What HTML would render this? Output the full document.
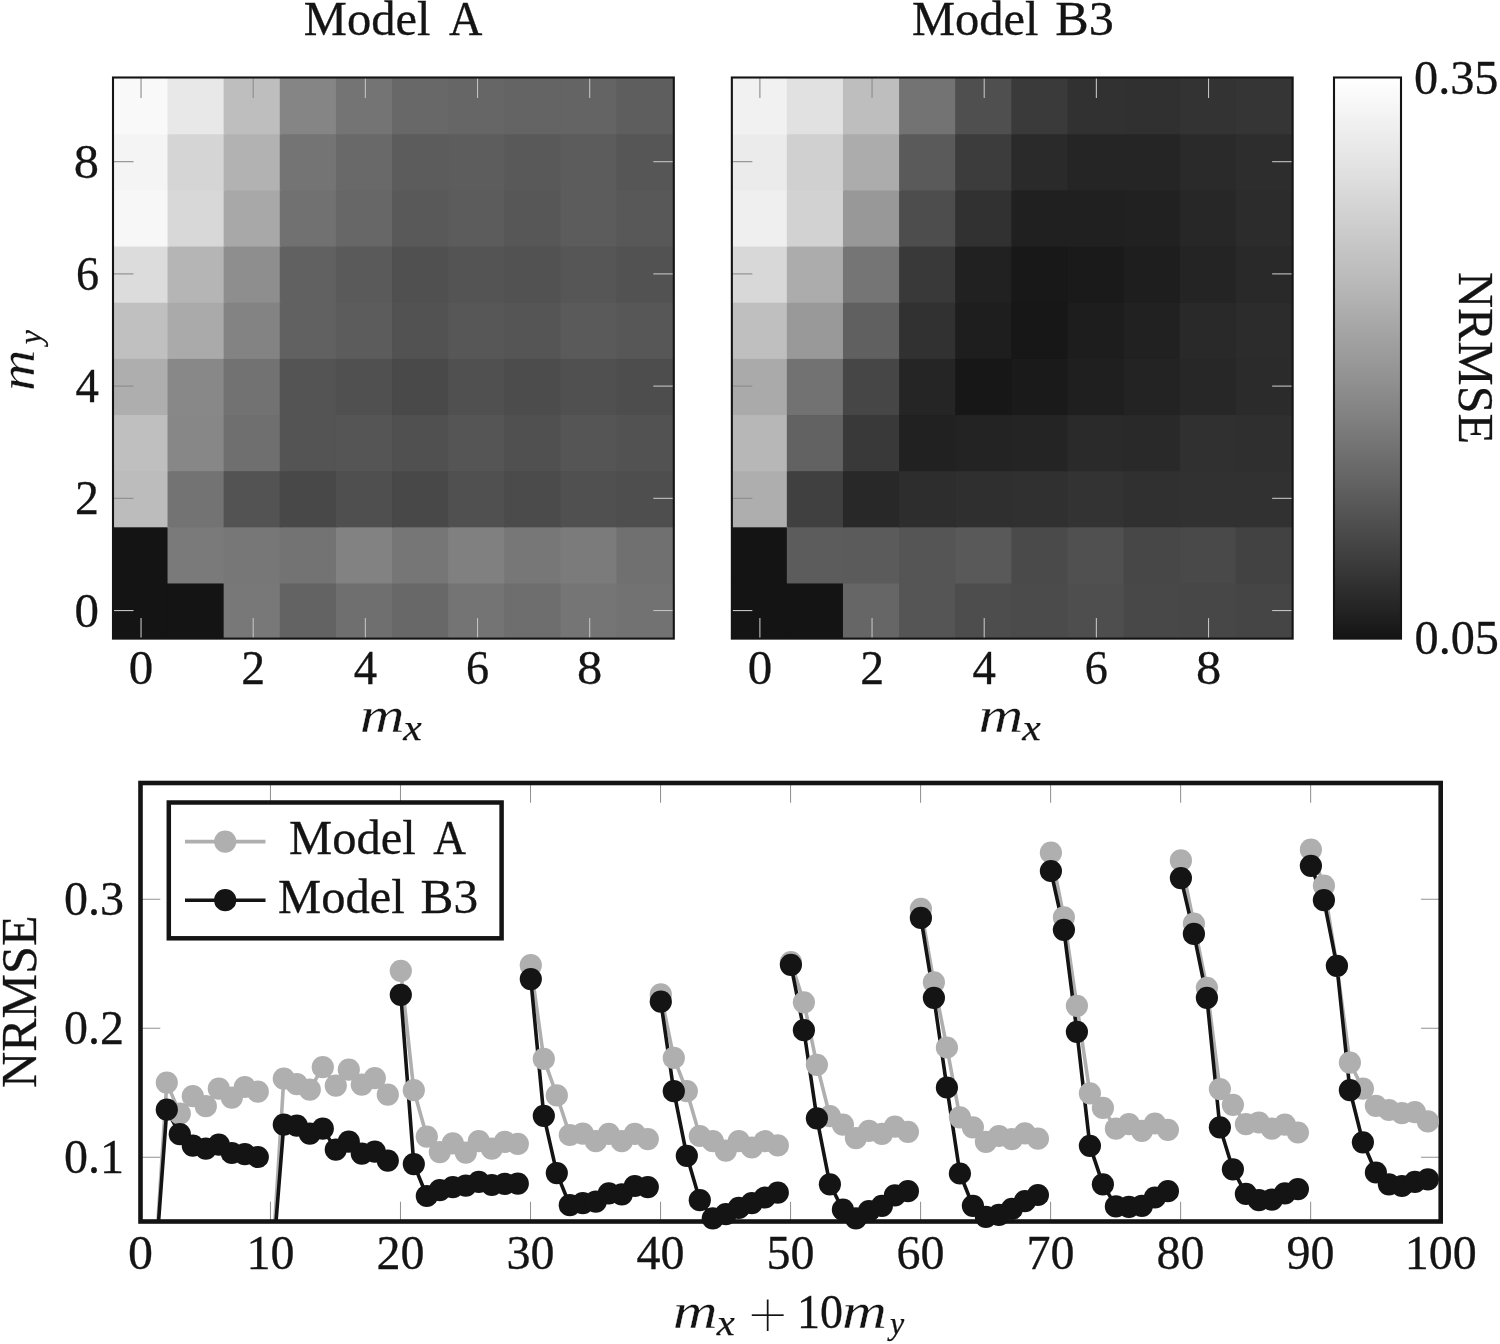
<!DOCTYPE html>
<html lang="en"><head><meta charset="utf-8"><title>NRMSE model comparison</title>
<style>html,body{margin:0;padding:0;background:#fff}svg{display:block}text{font-family:"Liberation Serif","DejaVu Serif",serif;fill:#141414;stroke:#141414;stroke-width:.3px}.it{font-style:italic;stroke:#fff;stroke-width:.3px;paint-order:fill stroke}.pl{stroke:#fff;stroke-width:1.8px;paint-order:fill stroke}.sb{font-style:italic;stroke:#141414;stroke-width:.25px}</style></head><body>
<svg width="1500" height="1344" viewBox="0 0 1500 1344">
<rect width="1500" height="1344" fill="#fff"/>
<clipPath id="hc113"><rect x="113.00" y="77.50" width="560.80" height="561.10"/></clipPath>
<g clip-path="url(#hc113)">
<rect x="108.40" y="582.00" width="60.58" height="60.61" fill="rgb(20,20,20)"/>
<rect x="167.53" y="582.00" width="57.58" height="60.61" fill="rgb(20,20,20)"/>
<rect x="223.65" y="582.00" width="57.58" height="60.61" fill="rgb(120,120,120)"/>
<rect x="279.77" y="582.00" width="57.58" height="60.61" fill="rgb(99,99,99)"/>
<rect x="335.90" y="582.00" width="57.58" height="60.61" fill="rgb(111,111,111)"/>
<rect x="392.02" y="582.00" width="57.58" height="60.61" fill="rgb(104,104,104)"/>
<rect x="448.15" y="582.00" width="57.58" height="60.61" fill="rgb(116,116,116)"/>
<rect x="504.27" y="582.00" width="57.58" height="60.61" fill="rgb(110,110,110)"/>
<rect x="560.40" y="582.00" width="57.58" height="60.61" fill="rgb(117,117,117)"/>
<rect x="616.52" y="582.00" width="59.08" height="60.61" fill="rgb(114,114,114)"/>
<rect x="108.40" y="525.85" width="60.58" height="57.61" fill="rgb(20,20,20)"/>
<rect x="167.53" y="525.85" width="57.58" height="57.61" fill="rgb(122,122,122)"/>
<rect x="223.65" y="525.85" width="57.58" height="57.61" fill="rgb(119,119,119)"/>
<rect x="279.77" y="525.85" width="57.58" height="57.61" fill="rgb(115,115,115)"/>
<rect x="335.90" y="525.85" width="57.58" height="57.61" fill="rgb(130,130,130)"/>
<rect x="392.02" y="525.85" width="57.58" height="57.61" fill="rgb(118,118,118)"/>
<rect x="448.15" y="525.85" width="57.58" height="57.61" fill="rgb(128,128,128)"/>
<rect x="504.27" y="525.85" width="57.58" height="57.61" fill="rgb(119,119,119)"/>
<rect x="560.40" y="525.85" width="57.58" height="57.61" fill="rgb(123,123,123)"/>
<rect x="616.52" y="525.85" width="59.08" height="57.61" fill="rgb(112,112,112)"/>
<rect x="108.40" y="469.70" width="60.58" height="57.61" fill="rgb(188,188,188)"/>
<rect x="167.53" y="469.70" width="57.58" height="57.61" fill="rgb(115,115,115)"/>
<rect x="223.65" y="469.70" width="57.58" height="57.61" fill="rgb(83,83,83)"/>
<rect x="279.77" y="469.70" width="57.58" height="57.61" fill="rgb(72,72,72)"/>
<rect x="335.90" y="469.70" width="57.58" height="57.61" fill="rgb(79,79,79)"/>
<rect x="392.02" y="469.70" width="57.58" height="57.61" fill="rgb(72,72,72)"/>
<rect x="448.15" y="469.70" width="57.58" height="57.61" fill="rgb(80,80,80)"/>
<rect x="504.27" y="469.70" width="57.58" height="57.61" fill="rgb(75,75,75)"/>
<rect x="560.40" y="469.70" width="57.58" height="57.61" fill="rgb(80,80,80)"/>
<rect x="616.52" y="469.70" width="59.08" height="57.61" fill="rgb(78,78,78)"/>
<rect x="108.40" y="413.55" width="60.58" height="57.61" fill="rgb(191,191,191)"/>
<rect x="167.53" y="413.55" width="57.58" height="57.61" fill="rgb(135,135,135)"/>
<rect x="223.65" y="413.55" width="57.58" height="57.61" fill="rgb(111,111,111)"/>
<rect x="279.77" y="413.55" width="57.58" height="57.61" fill="rgb(84,84,84)"/>
<rect x="335.90" y="413.55" width="57.58" height="57.61" fill="rgb(85,85,85)"/>
<rect x="392.02" y="413.55" width="57.58" height="57.61" fill="rgb(80,80,80)"/>
<rect x="448.15" y="413.55" width="57.58" height="57.61" fill="rgb(85,85,85)"/>
<rect x="504.27" y="413.55" width="57.58" height="57.61" fill="rgb(80,80,80)"/>
<rect x="560.40" y="413.55" width="57.58" height="57.61" fill="rgb(85,85,85)"/>
<rect x="616.52" y="413.55" width="59.08" height="57.61" fill="rgb(82,82,82)"/>
<rect x="108.40" y="357.40" width="60.58" height="57.61" fill="rgb(174,174,174)"/>
<rect x="167.53" y="357.40" width="57.58" height="57.61" fill="rgb(136,136,136)"/>
<rect x="223.65" y="357.40" width="57.58" height="57.61" fill="rgb(114,114,114)"/>
<rect x="279.77" y="357.40" width="57.58" height="57.61" fill="rgb(84,84,84)"/>
<rect x="335.90" y="357.40" width="57.58" height="57.61" fill="rgb(80,80,80)"/>
<rect x="392.02" y="357.40" width="57.58" height="57.61" fill="rgb(73,73,73)"/>
<rect x="448.15" y="357.40" width="57.58" height="57.61" fill="rgb(80,80,80)"/>
<rect x="504.27" y="357.40" width="57.58" height="57.61" fill="rgb(76,76,76)"/>
<rect x="560.40" y="357.40" width="57.58" height="57.61" fill="rgb(80,80,80)"/>
<rect x="616.52" y="357.40" width="59.08" height="57.61" fill="rgb(77,77,77)"/>
<rect x="108.40" y="301.25" width="60.58" height="57.61" fill="rgb(192,192,192)"/>
<rect x="167.53" y="301.25" width="57.58" height="57.61" fill="rgb(170,170,170)"/>
<rect x="223.65" y="301.25" width="57.58" height="57.61" fill="rgb(131,131,131)"/>
<rect x="279.77" y="301.25" width="57.58" height="57.61" fill="rgb(97,97,97)"/>
<rect x="335.90" y="301.25" width="57.58" height="57.61" fill="rgb(92,92,92)"/>
<rect x="392.02" y="301.25" width="57.58" height="57.61" fill="rgb(82,82,82)"/>
<rect x="448.15" y="301.25" width="57.58" height="57.61" fill="rgb(87,87,87)"/>
<rect x="504.27" y="301.25" width="57.58" height="57.61" fill="rgb(85,85,85)"/>
<rect x="560.40" y="301.25" width="57.58" height="57.61" fill="rgb(90,90,90)"/>
<rect x="616.52" y="301.25" width="59.08" height="57.61" fill="rgb(87,87,87)"/>
<rect x="108.40" y="245.10" width="60.58" height="57.61" fill="rgb(220,220,220)"/>
<rect x="167.53" y="245.10" width="57.58" height="57.61" fill="rgb(181,181,181)"/>
<rect x="223.65" y="245.10" width="57.58" height="57.61" fill="rgb(142,142,142)"/>
<rect x="279.77" y="245.10" width="57.58" height="57.61" fill="rgb(97,97,97)"/>
<rect x="335.90" y="245.10" width="57.58" height="57.61" fill="rgb(90,90,90)"/>
<rect x="392.02" y="245.10" width="57.58" height="57.61" fill="rgb(80,80,80)"/>
<rect x="448.15" y="245.10" width="57.58" height="57.61" fill="rgb(84,84,84)"/>
<rect x="504.27" y="245.10" width="57.58" height="57.61" fill="rgb(82,82,82)"/>
<rect x="560.40" y="245.10" width="57.58" height="57.61" fill="rgb(86,86,86)"/>
<rect x="616.52" y="245.10" width="59.08" height="57.61" fill="rgb(82,82,82)"/>
<rect x="108.40" y="188.95" width="60.58" height="57.61" fill="rgb(247,247,247)"/>
<rect x="167.53" y="188.95" width="57.58" height="57.61" fill="rgb(216,216,216)"/>
<rect x="223.65" y="188.95" width="57.58" height="57.61" fill="rgb(168,168,168)"/>
<rect x="279.77" y="188.95" width="57.58" height="57.61" fill="rgb(113,113,113)"/>
<rect x="335.90" y="188.95" width="57.58" height="57.61" fill="rgb(103,103,103)"/>
<rect x="392.02" y="188.95" width="57.58" height="57.61" fill="rgb(89,89,89)"/>
<rect x="448.15" y="188.95" width="57.58" height="57.61" fill="rgb(92,92,92)"/>
<rect x="504.27" y="188.95" width="57.58" height="57.61" fill="rgb(87,87,87)"/>
<rect x="560.40" y="188.95" width="57.58" height="57.61" fill="rgb(92,92,92)"/>
<rect x="616.52" y="188.95" width="59.08" height="57.61" fill="rgb(88,88,88)"/>
<rect x="108.40" y="132.80" width="60.58" height="57.61" fill="rgb(244,244,244)"/>
<rect x="167.53" y="132.80" width="57.58" height="57.61" fill="rgb(213,213,213)"/>
<rect x="223.65" y="132.80" width="57.58" height="57.61" fill="rgb(178,178,178)"/>
<rect x="279.77" y="132.80" width="57.58" height="57.61" fill="rgb(116,116,116)"/>
<rect x="335.90" y="132.80" width="57.58" height="57.61" fill="rgb(105,105,105)"/>
<rect x="392.02" y="132.80" width="57.58" height="57.61" fill="rgb(92,92,92)"/>
<rect x="448.15" y="132.80" width="57.58" height="57.61" fill="rgb(93,93,93)"/>
<rect x="504.27" y="132.80" width="57.58" height="57.61" fill="rgb(89,89,89)"/>
<rect x="560.40" y="132.80" width="57.58" height="57.61" fill="rgb(92,92,92)"/>
<rect x="616.52" y="132.80" width="59.08" height="57.61" fill="rgb(86,86,86)"/>
<rect x="108.40" y="75.15" width="60.58" height="59.11" fill="rgb(249,249,249)"/>
<rect x="167.53" y="75.15" width="57.58" height="59.11" fill="rgb(232,232,232)"/>
<rect x="223.65" y="75.15" width="57.58" height="59.11" fill="rgb(190,190,190)"/>
<rect x="279.77" y="75.15" width="57.58" height="59.11" fill="rgb(133,133,133)"/>
<rect x="335.90" y="75.15" width="57.58" height="59.11" fill="rgb(116,116,116)"/>
<rect x="392.02" y="75.15" width="57.58" height="59.11" fill="rgb(104,104,104)"/>
<rect x="448.15" y="75.15" width="57.58" height="59.11" fill="rgb(102,102,102)"/>
<rect x="504.27" y="75.15" width="57.58" height="59.11" fill="rgb(100,100,100)"/>
<rect x="560.40" y="75.15" width="57.58" height="59.11" fill="rgb(100,100,100)"/>
<rect x="616.52" y="75.15" width="59.08" height="59.11" fill="rgb(94,94,94)"/>
</g>
<path d="M141.04 638.60v-20.5" stroke="#c2c2c2" stroke-width="1.1"/>
<path d="M141.04 77.50v20.5" stroke="#8c8c8c" stroke-width="1.1"/>
<path d="M113.00 610.55h20.5" stroke="#c2c2c2" stroke-width="1.1"/>
<path d="M673.80 610.55h-20.5" stroke="#c2c2c2" stroke-width="1.1"/>
<path d="M253.20 638.60v-20.5" stroke="#c2c2c2" stroke-width="1.1"/>
<path d="M253.20 77.50v20.5" stroke="#8c8c8c" stroke-width="1.1"/>
<path d="M113.00 498.33h20.5" stroke="#8c8c8c" stroke-width="1.1"/>
<path d="M673.80 498.33h-20.5" stroke="#c2c2c2" stroke-width="1.1"/>
<path d="M365.36 638.60v-20.5" stroke="#c2c2c2" stroke-width="1.1"/>
<path d="M365.36 77.50v20.5" stroke="#c2c2c2" stroke-width="1.1"/>
<path d="M113.00 386.11h20.5" stroke="#8c8c8c" stroke-width="1.1"/>
<path d="M673.80 386.11h-20.5" stroke="#c2c2c2" stroke-width="1.1"/>
<path d="M477.52 638.60v-20.5" stroke="#c2c2c2" stroke-width="1.1"/>
<path d="M477.52 77.50v20.5" stroke="#c2c2c2" stroke-width="1.1"/>
<path d="M113.00 273.89h20.5" stroke="#8c8c8c" stroke-width="1.1"/>
<path d="M673.80 273.89h-20.5" stroke="#c2c2c2" stroke-width="1.1"/>
<path d="M589.68 638.60v-20.5" stroke="#c2c2c2" stroke-width="1.1"/>
<path d="M589.68 77.50v20.5" stroke="#c2c2c2" stroke-width="1.1"/>
<path d="M113.00 161.67h20.5" stroke="#8c8c8c" stroke-width="1.1"/>
<path d="M673.80 161.67h-20.5" stroke="#c2c2c2" stroke-width="1.1"/>
<rect x="113.00" y="77.50" width="560.80" height="561.10" fill="none" stroke="#141414" stroke-width="2.1"/>
<text x="141.0" y="684" font-size="48" text-anchor="middle" textLength="24.5" lengthAdjust="spacingAndGlyphs">0</text>
<text x="99" y="626.5" font-size="48" text-anchor="end" textLength="24.5" lengthAdjust="spacingAndGlyphs">0</text>
<text x="253.2" y="684" font-size="48" text-anchor="middle" textLength="23.9" lengthAdjust="spacingAndGlyphs">2</text>
<text x="99" y="514.3" font-size="48" text-anchor="end" textLength="23.9" lengthAdjust="spacingAndGlyphs">2</text>
<text x="365.4" y="684" font-size="48" text-anchor="middle" textLength="23.4" lengthAdjust="spacingAndGlyphs">4</text>
<text x="99" y="402.1" font-size="48" text-anchor="end" textLength="23.4" lengthAdjust="spacingAndGlyphs">4</text>
<text x="477.5" y="684" font-size="48" text-anchor="middle" textLength="23.1" lengthAdjust="spacingAndGlyphs">6</text>
<text x="99" y="289.9" font-size="48" text-anchor="end" textLength="23.1" lengthAdjust="spacingAndGlyphs">6</text>
<text x="589.7" y="684" font-size="48" text-anchor="middle" textLength="25.2" lengthAdjust="spacingAndGlyphs">8</text>
<text x="99" y="177.7" font-size="48" text-anchor="end" textLength="25.2" lengthAdjust="spacingAndGlyphs">8</text>
<clipPath id="hc731"><rect x="731.85" y="77.50" width="560.80" height="561.10"/></clipPath>
<g clip-path="url(#hc731)">
<rect x="727.70" y="582.00" width="60.58" height="60.61" fill="rgb(20,20,20)"/>
<rect x="786.83" y="582.00" width="57.58" height="60.61" fill="rgb(20,20,20)"/>
<rect x="842.95" y="582.00" width="57.58" height="60.61" fill="rgb(102,102,102)"/>
<rect x="899.08" y="582.00" width="57.58" height="60.61" fill="rgb(85,85,85)"/>
<rect x="955.20" y="582.00" width="57.58" height="60.61" fill="rgb(77,77,77)"/>
<rect x="1011.33" y="582.00" width="57.58" height="60.61" fill="rgb(75,75,75)"/>
<rect x="1067.45" y="582.00" width="57.58" height="60.61" fill="rgb(78,78,78)"/>
<rect x="1123.58" y="582.00" width="57.58" height="60.61" fill="rgb(72,72,72)"/>
<rect x="1179.70" y="582.00" width="57.58" height="60.61" fill="rgb(71,71,71)"/>
<rect x="1235.83" y="582.00" width="59.08" height="60.61" fill="rgb(69,69,69)"/>
<rect x="727.70" y="525.85" width="60.58" height="57.61" fill="rgb(20,20,20)"/>
<rect x="786.83" y="525.85" width="57.58" height="57.61" fill="rgb(92,92,92)"/>
<rect x="842.95" y="525.85" width="57.58" height="57.61" fill="rgb(91,91,91)"/>
<rect x="899.08" y="525.85" width="57.58" height="57.61" fill="rgb(85,85,85)"/>
<rect x="955.20" y="525.85" width="57.58" height="57.61" fill="rgb(89,89,89)"/>
<rect x="1011.33" y="525.85" width="57.58" height="57.61" fill="rgb(74,74,74)"/>
<rect x="1067.45" y="525.85" width="57.58" height="57.61" fill="rgb(80,80,80)"/>
<rect x="1123.58" y="525.85" width="57.58" height="57.61" fill="rgb(71,71,71)"/>
<rect x="1179.70" y="525.85" width="57.58" height="57.61" fill="rgb(73,73,73)"/>
<rect x="1235.83" y="525.85" width="59.08" height="57.61" fill="rgb(66,66,66)"/>
<rect x="727.70" y="469.70" width="60.58" height="57.61" fill="rgb(174,174,174)"/>
<rect x="786.83" y="469.70" width="57.58" height="57.61" fill="rgb(64,64,64)"/>
<rect x="842.95" y="469.70" width="57.58" height="57.61" fill="rgb(40,40,40)"/>
<rect x="899.08" y="469.70" width="57.58" height="57.61" fill="rgb(45,45,45)"/>
<rect x="955.20" y="469.70" width="57.58" height="57.61" fill="rgb(47,47,47)"/>
<rect x="1011.33" y="469.70" width="57.58" height="57.61" fill="rgb(48,48,48)"/>
<rect x="1067.45" y="469.70" width="57.58" height="57.61" fill="rgb(51,51,51)"/>
<rect x="1123.58" y="469.70" width="57.58" height="57.61" fill="rgb(48,48,48)"/>
<rect x="1179.70" y="469.70" width="57.58" height="57.61" fill="rgb(49,49,49)"/>
<rect x="1235.83" y="469.70" width="59.08" height="57.61" fill="rgb(49,49,49)"/>
<rect x="727.70" y="413.55" width="60.58" height="57.61" fill="rgb(183,183,183)"/>
<rect x="786.83" y="413.55" width="57.58" height="57.61" fill="rgb(98,98,98)"/>
<rect x="842.95" y="413.55" width="57.58" height="57.61" fill="rgb(57,57,57)"/>
<rect x="899.08" y="413.55" width="57.58" height="57.61" fill="rgb(33,33,33)"/>
<rect x="955.20" y="413.55" width="57.58" height="57.61" fill="rgb(35,35,35)"/>
<rect x="1011.33" y="413.55" width="57.58" height="57.61" fill="rgb(36,36,36)"/>
<rect x="1067.45" y="413.55" width="57.58" height="57.61" fill="rgb(42,42,42)"/>
<rect x="1123.58" y="413.55" width="57.58" height="57.61" fill="rgb(41,41,41)"/>
<rect x="1179.70" y="413.55" width="57.58" height="57.61" fill="rgb(48,48,48)"/>
<rect x="1235.83" y="413.55" width="59.08" height="57.61" fill="rgb(47,47,47)"/>
<rect x="727.70" y="357.40" width="60.58" height="57.61" fill="rgb(170,170,170)"/>
<rect x="786.83" y="357.40" width="57.58" height="57.61" fill="rgb(114,114,114)"/>
<rect x="842.95" y="357.40" width="57.58" height="57.61" fill="rgb(70,70,70)"/>
<rect x="899.08" y="357.40" width="57.58" height="57.61" fill="rgb(37,37,37)"/>
<rect x="955.20" y="357.40" width="57.58" height="57.61" fill="rgb(23,23,23)"/>
<rect x="1011.33" y="357.40" width="57.58" height="57.61" fill="rgb(26,26,26)"/>
<rect x="1067.45" y="357.40" width="57.58" height="57.61" fill="rgb(31,31,31)"/>
<rect x="1123.58" y="357.40" width="57.58" height="57.61" fill="rgb(35,35,35)"/>
<rect x="1179.70" y="357.40" width="57.58" height="57.61" fill="rgb(39,39,39)"/>
<rect x="1235.83" y="357.40" width="59.08" height="57.61" fill="rgb(43,43,43)"/>
<rect x="727.70" y="301.25" width="60.58" height="57.61" fill="rgb(191,191,191)"/>
<rect x="786.83" y="301.25" width="57.58" height="57.61" fill="rgb(153,153,153)"/>
<rect x="842.95" y="301.25" width="57.58" height="57.61" fill="rgb(96,96,96)"/>
<rect x="899.08" y="301.25" width="57.58" height="57.61" fill="rgb(49,49,49)"/>
<rect x="955.20" y="301.25" width="57.58" height="57.61" fill="rgb(30,30,30)"/>
<rect x="1011.33" y="301.25" width="57.58" height="57.61" fill="rgb(23,23,23)"/>
<rect x="1067.45" y="301.25" width="57.58" height="57.61" fill="rgb(29,29,29)"/>
<rect x="1123.58" y="301.25" width="57.58" height="57.61" fill="rgb(33,33,33)"/>
<rect x="1179.70" y="301.25" width="57.58" height="57.61" fill="rgb(41,41,41)"/>
<rect x="1235.83" y="301.25" width="59.08" height="57.61" fill="rgb(44,44,44)"/>
<rect x="727.70" y="245.10" width="60.58" height="57.61" fill="rgb(216,216,216)"/>
<rect x="786.83" y="245.10" width="57.58" height="57.61" fill="rgb(172,172,172)"/>
<rect x="842.95" y="245.10" width="57.58" height="57.61" fill="rgb(117,117,117)"/>
<rect x="899.08" y="245.10" width="57.58" height="57.61" fill="rgb(57,57,57)"/>
<rect x="955.20" y="245.10" width="57.58" height="57.61" fill="rgb(33,33,33)"/>
<rect x="1011.33" y="245.10" width="57.58" height="57.61" fill="rgb(24,24,24)"/>
<rect x="1067.45" y="245.10" width="57.58" height="57.61" fill="rgb(26,26,26)"/>
<rect x="1123.58" y="245.10" width="57.58" height="57.61" fill="rgb(30,30,30)"/>
<rect x="1179.70" y="245.10" width="57.58" height="57.61" fill="rgb(36,36,36)"/>
<rect x="1235.83" y="245.10" width="59.08" height="57.61" fill="rgb(41,41,41)"/>
<rect x="727.70" y="188.95" width="60.58" height="57.61" fill="rgb(239,239,239)"/>
<rect x="786.83" y="188.95" width="57.58" height="57.61" fill="rgb(210,210,210)"/>
<rect x="842.95" y="188.95" width="57.58" height="57.61" fill="rgb(152,152,152)"/>
<rect x="899.08" y="188.95" width="57.58" height="57.61" fill="rgb(77,77,77)"/>
<rect x="955.20" y="188.95" width="57.58" height="57.61" fill="rgb(49,49,49)"/>
<rect x="1011.33" y="188.95" width="57.58" height="57.61" fill="rgb(32,32,32)"/>
<rect x="1067.45" y="188.95" width="57.58" height="57.61" fill="rgb(32,32,32)"/>
<rect x="1123.58" y="188.95" width="57.58" height="57.61" fill="rgb(33,33,33)"/>
<rect x="1179.70" y="188.95" width="57.58" height="57.61" fill="rgb(39,39,39)"/>
<rect x="1235.83" y="188.95" width="59.08" height="57.61" fill="rgb(44,44,44)"/>
<rect x="727.70" y="132.80" width="60.58" height="57.61" fill="rgb(235,235,235)"/>
<rect x="786.83" y="132.80" width="57.58" height="57.61" fill="rgb(208,208,208)"/>
<rect x="842.95" y="132.80" width="57.58" height="57.61" fill="rgb(172,172,172)"/>
<rect x="899.08" y="132.80" width="57.58" height="57.61" fill="rgb(90,90,90)"/>
<rect x="955.20" y="132.80" width="57.58" height="57.61" fill="rgb(60,60,60)"/>
<rect x="1011.33" y="132.80" width="57.58" height="57.61" fill="rgb(42,42,42)"/>
<rect x="1067.45" y="132.80" width="57.58" height="57.61" fill="rgb(37,37,37)"/>
<rect x="1123.58" y="132.80" width="57.58" height="57.61" fill="rgb(37,37,37)"/>
<rect x="1179.70" y="132.80" width="57.58" height="57.61" fill="rgb(42,42,42)"/>
<rect x="1235.83" y="132.80" width="59.08" height="57.61" fill="rgb(45,45,45)"/>
<rect x="727.70" y="75.15" width="60.58" height="59.11" fill="rgb(241,241,241)"/>
<rect x="786.83" y="75.15" width="57.58" height="59.11" fill="rgb(225,225,225)"/>
<rect x="842.95" y="75.15" width="57.58" height="59.11" fill="rgb(190,190,190)"/>
<rect x="899.08" y="75.15" width="57.58" height="59.11" fill="rgb(115,115,115)"/>
<rect x="955.20" y="75.15" width="57.58" height="59.11" fill="rgb(79,79,79)"/>
<rect x="1011.33" y="75.15" width="57.58" height="59.11" fill="rgb(58,58,58)"/>
<rect x="1067.45" y="75.15" width="57.58" height="59.11" fill="rgb(49,49,49)"/>
<rect x="1123.58" y="75.15" width="57.58" height="59.11" fill="rgb(48,48,48)"/>
<rect x="1179.70" y="75.15" width="57.58" height="59.11" fill="rgb(51,51,51)"/>
<rect x="1235.83" y="75.15" width="59.08" height="59.11" fill="rgb(53,53,53)"/>
</g>
<path d="M759.89 638.60v-20.5" stroke="#c2c2c2" stroke-width="1.1"/>
<path d="M759.89 77.50v20.5" stroke="#8c8c8c" stroke-width="1.1"/>
<path d="M731.85 610.55h20.5" stroke="#c2c2c2" stroke-width="1.1"/>
<path d="M1292.65 610.55h-20.5" stroke="#c2c2c2" stroke-width="1.1"/>
<path d="M872.05 638.60v-20.5" stroke="#c2c2c2" stroke-width="1.1"/>
<path d="M872.05 77.50v20.5" stroke="#8c8c8c" stroke-width="1.1"/>
<path d="M731.85 498.33h20.5" stroke="#8c8c8c" stroke-width="1.1"/>
<path d="M1292.65 498.33h-20.5" stroke="#c2c2c2" stroke-width="1.1"/>
<path d="M984.21 638.60v-20.5" stroke="#c2c2c2" stroke-width="1.1"/>
<path d="M984.21 77.50v20.5" stroke="#c2c2c2" stroke-width="1.1"/>
<path d="M731.85 386.11h20.5" stroke="#8c8c8c" stroke-width="1.1"/>
<path d="M1292.65 386.11h-20.5" stroke="#c2c2c2" stroke-width="1.1"/>
<path d="M1096.37 638.60v-20.5" stroke="#c2c2c2" stroke-width="1.1"/>
<path d="M1096.37 77.50v20.5" stroke="#c2c2c2" stroke-width="1.1"/>
<path d="M731.85 273.89h20.5" stroke="#8c8c8c" stroke-width="1.1"/>
<path d="M1292.65 273.89h-20.5" stroke="#c2c2c2" stroke-width="1.1"/>
<path d="M1208.53 638.60v-20.5" stroke="#c2c2c2" stroke-width="1.1"/>
<path d="M1208.53 77.50v20.5" stroke="#c2c2c2" stroke-width="1.1"/>
<path d="M731.85 161.67h20.5" stroke="#8c8c8c" stroke-width="1.1"/>
<path d="M1292.65 161.67h-20.5" stroke="#c2c2c2" stroke-width="1.1"/>
<rect x="731.85" y="77.50" width="560.80" height="561.10" fill="none" stroke="#141414" stroke-width="2.1"/>
<text x="759.9" y="684" font-size="48" text-anchor="middle" textLength="24.5" lengthAdjust="spacingAndGlyphs">0</text>
<text x="872.1" y="684" font-size="48" text-anchor="middle" textLength="23.9" lengthAdjust="spacingAndGlyphs">2</text>
<text x="984.2" y="684" font-size="48" text-anchor="middle" textLength="23.4" lengthAdjust="spacingAndGlyphs">4</text>
<text x="1096.4" y="684" font-size="48" text-anchor="middle" textLength="23.1" lengthAdjust="spacingAndGlyphs">6</text>
<text x="1208.5" y="684" font-size="48" text-anchor="middle" textLength="25.2" lengthAdjust="spacingAndGlyphs">8</text>
<text x="303.8" y="35.0" font-size="48.8" textLength="126.7" lengthAdjust="spacingAndGlyphs">Model</text>
<text x="449.0" y="35.0" font-size="48.8" textLength="33.4" lengthAdjust="spacingAndGlyphs">A</text>
<text x="911.9" y="35.0" font-size="48.8" textLength="126.7" lengthAdjust="spacingAndGlyphs">Model</text>
<text x="1055.3" y="35.0" font-size="48.8" textLength="58.5" lengthAdjust="spacingAndGlyphs">B3</text>
<text x="359.65" y="732" font-size="50" class="it" textLength="44.9" lengthAdjust="spacingAndGlyphs">m</text>
<text x="403.30" y="739.5" font-size="35" class="sb" textLength="18.5" lengthAdjust="spacingAndGlyphs">x</text>
<text x="978.55" y="732" font-size="50" class="it" textLength="44.9" lengthAdjust="spacingAndGlyphs">m</text>
<text x="1022.20" y="739.5" font-size="35" class="sb" textLength="18.5" lengthAdjust="spacingAndGlyphs">x</text>
<g transform="translate(34,390.9) rotate(-90)"><text x="0" y="0" font-size="50" class="it" textLength="41.3" lengthAdjust="spacingAndGlyphs">m</text><text x="46.7" y="6.5" font-size="31" class="sb" textLength="14.2" lengthAdjust="spacingAndGlyphs">y</text></g>
<defs><linearGradient id="cb" x1="0" y1="1" x2="0" y2="0">
<stop offset="0.000" stop-color="rgb(20,20,20)"/>
<stop offset="0.050" stop-color="rgb(35,35,35)"/>
<stop offset="0.100" stop-color="rgb(49,49,49)"/>
<stop offset="0.150" stop-color="rgb(64,64,64)"/>
<stop offset="0.200" stop-color="rgb(77,77,77)"/>
<stop offset="0.250" stop-color="rgb(91,91,91)"/>
<stop offset="0.300" stop-color="rgb(104,104,104)"/>
<stop offset="0.350" stop-color="rgb(117,117,117)"/>
<stop offset="0.400" stop-color="rgb(130,130,130)"/>
<stop offset="0.450" stop-color="rgb(142,142,142)"/>
<stop offset="0.500" stop-color="rgb(154,154,154)"/>
<stop offset="0.550" stop-color="rgb(165,165,165)"/>
<stop offset="0.600" stop-color="rgb(177,177,177)"/>
<stop offset="0.650" stop-color="rgb(188,188,188)"/>
<stop offset="0.700" stop-color="rgb(198,198,198)"/>
<stop offset="0.750" stop-color="rgb(208,208,208)"/>
<stop offset="0.800" stop-color="rgb(218,218,218)"/>
<stop offset="0.850" stop-color="rgb(228,228,228)"/>
<stop offset="0.900" stop-color="rgb(237,237,237)"/>
<stop offset="0.950" stop-color="rgb(246,246,246)"/>
<stop offset="1.000" stop-color="rgb(255,255,255)"/>
</linearGradient></defs>
<rect x="1334" y="77.5" width="67" height="561.1" fill="url(#cb)" stroke="#141414" stroke-width="2.1"/>
<text x="1414" y="93.5" font-size="48" textLength="84.5" lengthAdjust="spacingAndGlyphs">0.35</text>
<text x="1414.5" y="654" font-size="48" textLength="84.5" lengthAdjust="spacingAndGlyphs">0.05</text>
<g transform="translate(1458.6,272) rotate(90)"><text x="0" y="0" font-size="50" textLength="172" lengthAdjust="spacingAndGlyphs">NRMSE</text></g>
<path d="M140.45 1221.50v-19.8 M140.45 783.00v19.8 M270.47 1221.50v-19.8 M270.47 783.00v19.8 M400.49 1221.50v-19.8 M400.49 783.00v19.8 M530.51 1221.50v-19.8 M530.51 783.00v19.8 M660.53 1221.50v-19.8 M660.53 783.00v19.8 M790.55 1221.50v-19.8 M790.55 783.00v19.8 M920.57 1221.50v-19.8 M920.57 783.00v19.8 M1050.59 1221.50v-19.8 M1050.59 783.00v19.8 M1180.61 1221.50v-19.8 M1180.61 783.00v19.8 M1310.63 1221.50v-19.8 M1310.63 783.00v19.8 M1440.65 1221.50v-19.8 M1440.65 783.00v19.8 M140.50 1157.30h19.8 M1440.70 1157.30h-19.8 M140.50 1028.30h19.8 M1440.70 1028.30h-19.8 M140.50 899.30h19.8 M1440.70 899.30h-19.8" stroke="#939393" stroke-width="1.05" fill="none"/>
<clipPath id="lclip"><rect x="140.5" y="783.0" width="1300.2" height="438.5"/></clipPath>
<g clip-path="url(#lclip)" stroke="#afafaf" stroke-width="3.6" fill="none" stroke-linejoin="round">
<polyline points="153.8,1286.3 166.8,1082.6 179.8,1113.6 192.8,1096.2 205.8,1106.2 218.8,1088.6 231.8,1097.6 244.8,1087.0 257.8,1091.6"/>
<polyline points="270.8,1286.3 283.8,1078.6 296.8,1084.2 309.8,1089.6 322.8,1067.2 335.8,1085.6 348.8,1069.6 361.8,1084.6 374.8,1078.2 387.8,1094.6"/>
<polyline points="400.8,970.8 413.8,1090.2 426.8,1136.6 439.8,1152.1 452.8,1143.3 465.8,1152.6 478.8,1141.2 491.8,1148.6 504.8,1141.9 517.8,1143.9"/>
<polyline points="530.8,965.2 543.8,1058.9 556.8,1095.4 569.8,1135.0 582.8,1133.6 595.8,1141.2 608.8,1133.9 621.8,1141.2 634.8,1133.9 647.8,1139.1"/>
<polyline points="660.8,994.4 673.8,1057.9 686.8,1091.2 699.8,1136.0 712.8,1141.2 725.8,1150.6 738.8,1141.2 751.8,1147.5 764.8,1141.2 777.8,1145.4"/>
<polyline points="790.9,962.1 803.9,1002.3 816.9,1064.8 829.9,1116.2 842.9,1124.6 855.9,1138.1 868.9,1130.8 881.9,1133.9 894.9,1126.6 907.9,1131.8"/>
<polyline points="920.9,908.9 933.9,982.3 946.9,1047.5 959.9,1117.3 972.9,1127.3 985.9,1141.8 998.9,1136.0 1011.9,1139.1 1024.9,1133.3 1037.9,1138.7"/>
<polyline points="1050.9,852.7 1063.9,917.3 1076.9,1005.8 1089.9,1093.3 1102.9,1107.9 1115.9,1128.7 1128.9,1124.1 1141.9,1130.8 1154.9,1123.5 1167.9,1129.8"/>
<polyline points="1180.9,860.4 1193.9,923.5 1206.9,987.8 1219.9,1089.1 1232.9,1104.8 1245.9,1124.1 1258.9,1122.5 1271.9,1128.7 1284.9,1124.6 1297.9,1132.5"/>
<polyline points="1310.9,849.6 1323.9,885.6 1336.9,966.0 1349.9,1062.6 1362.9,1088.7 1375.9,1105.8 1388.9,1110.0 1401.9,1113.1 1414.9,1112.1 1427.9,1121.4"/>
</g>
<g clip-path="url(#lclip)" stroke="#141414" stroke-width="3.6" fill="none" stroke-linejoin="round">
<polyline points="153.8,1286.3 166.8,1109.6 179.8,1134.2 192.8,1145.6 205.8,1148.6 218.8,1144.6 231.8,1153.0 244.8,1154.2 257.8,1157.0"/>
<polyline points="270.8,1286.3 283.8,1124.6 296.8,1125.6 309.8,1133.6 322.8,1128.6 335.8,1149.6 348.8,1141.6 361.8,1153.6 374.8,1151.6 387.8,1160.6"/>
<polyline points="400.8,994.8 413.8,1164.1 426.8,1196.0 439.8,1190.2 452.8,1187.1 465.8,1185.6 478.8,1181.9 491.8,1185.0 504.8,1183.9 517.8,1183.6"/>
<polyline points="530.8,979.1 543.8,1115.8 556.8,1173.1 569.8,1205.2 582.8,1203.1 595.8,1201.6 608.8,1193.3 621.8,1194.3 634.8,1186.0 647.8,1187.1"/>
<polyline points="660.8,1001.6 673.8,1091.2 686.8,1155.8 699.8,1200.2 712.8,1218.3 725.8,1214.1 738.8,1207.9 751.8,1203.1 764.8,1197.5 777.8,1192.6"/>
<polyline points="790.9,964.8 803.9,1030.2 816.9,1118.3 829.9,1184.3 842.9,1209.6 855.9,1218.3 868.9,1211.0 881.9,1205.8 894.9,1195.4 907.9,1191.2"/>
<polyline points="920.9,917.9 933.9,997.8 946.9,1087.5 959.9,1173.5 972.9,1205.8 985.9,1216.8 998.9,1214.8 1011.9,1208.9 1024.9,1201.2 1037.9,1195.0"/>
<polyline points="1050.9,871.0 1063.9,929.8 1076.9,1031.8 1089.9,1145.8 1102.9,1184.3 1115.9,1206.4 1128.9,1206.8 1141.9,1205.8 1154.9,1197.5 1167.9,1191.2"/>
<polyline points="1180.9,878.1 1193.9,933.9 1206.9,997.8 1219.9,1127.3 1232.9,1169.3 1245.9,1193.9 1258.9,1200.2 1271.9,1199.6 1284.9,1193.3 1297.9,1189.1"/>
<polyline points="1310.9,865.8 1323.9,900.2 1336.9,965.8 1349.9,1090.2 1362.9,1142.3 1375.9,1172.5 1388.9,1184.3 1401.9,1186.0 1414.9,1181.8 1427.9,1179.3"/>
</g>
<rect x="140.50" y="783.00" width="1300.20" height="438.50" fill="none" stroke="#141414" stroke-width="4.6"/>
<g fill="#afafaf">
<circle cx="166.8" cy="1082.6" r="11.1"/>
<circle cx="179.8" cy="1113.6" r="11.1"/>
<circle cx="192.8" cy="1096.2" r="11.1"/>
<circle cx="205.8" cy="1106.2" r="11.1"/>
<circle cx="218.8" cy="1088.6" r="11.1"/>
<circle cx="231.8" cy="1097.6" r="11.1"/>
<circle cx="244.8" cy="1087.0" r="11.1"/>
<circle cx="257.8" cy="1091.6" r="11.1"/>
<circle cx="283.8" cy="1078.6" r="11.1"/>
<circle cx="296.8" cy="1084.2" r="11.1"/>
<circle cx="309.8" cy="1089.6" r="11.1"/>
<circle cx="322.8" cy="1067.2" r="11.1"/>
<circle cx="335.8" cy="1085.6" r="11.1"/>
<circle cx="348.8" cy="1069.6" r="11.1"/>
<circle cx="361.8" cy="1084.6" r="11.1"/>
<circle cx="374.8" cy="1078.2" r="11.1"/>
<circle cx="387.8" cy="1094.6" r="11.1"/>
<circle cx="400.8" cy="970.8" r="11.1"/>
<circle cx="413.8" cy="1090.2" r="11.1"/>
<circle cx="426.8" cy="1136.6" r="11.1"/>
<circle cx="439.8" cy="1152.1" r="11.1"/>
<circle cx="452.8" cy="1143.3" r="11.1"/>
<circle cx="465.8" cy="1152.6" r="11.1"/>
<circle cx="478.8" cy="1141.2" r="11.1"/>
<circle cx="491.8" cy="1148.6" r="11.1"/>
<circle cx="504.8" cy="1141.9" r="11.1"/>
<circle cx="517.8" cy="1143.9" r="11.1"/>
<circle cx="530.8" cy="965.2" r="11.1"/>
<circle cx="543.8" cy="1058.9" r="11.1"/>
<circle cx="556.8" cy="1095.4" r="11.1"/>
<circle cx="569.8" cy="1135.0" r="11.1"/>
<circle cx="582.8" cy="1133.6" r="11.1"/>
<circle cx="595.8" cy="1141.2" r="11.1"/>
<circle cx="608.8" cy="1133.9" r="11.1"/>
<circle cx="621.8" cy="1141.2" r="11.1"/>
<circle cx="634.8" cy="1133.9" r="11.1"/>
<circle cx="647.8" cy="1139.1" r="11.1"/>
<circle cx="660.8" cy="994.4" r="11.1"/>
<circle cx="673.8" cy="1057.9" r="11.1"/>
<circle cx="686.8" cy="1091.2" r="11.1"/>
<circle cx="699.8" cy="1136.0" r="11.1"/>
<circle cx="712.8" cy="1141.2" r="11.1"/>
<circle cx="725.8" cy="1150.6" r="11.1"/>
<circle cx="738.8" cy="1141.2" r="11.1"/>
<circle cx="751.8" cy="1147.5" r="11.1"/>
<circle cx="764.8" cy="1141.2" r="11.1"/>
<circle cx="777.8" cy="1145.4" r="11.1"/>
<circle cx="790.9" cy="962.1" r="11.1"/>
<circle cx="803.9" cy="1002.3" r="11.1"/>
<circle cx="816.9" cy="1064.8" r="11.1"/>
<circle cx="829.9" cy="1116.2" r="11.1"/>
<circle cx="842.9" cy="1124.6" r="11.1"/>
<circle cx="855.9" cy="1138.1" r="11.1"/>
<circle cx="868.9" cy="1130.8" r="11.1"/>
<circle cx="881.9" cy="1133.9" r="11.1"/>
<circle cx="894.9" cy="1126.6" r="11.1"/>
<circle cx="907.9" cy="1131.8" r="11.1"/>
<circle cx="920.9" cy="908.9" r="11.1"/>
<circle cx="933.9" cy="982.3" r="11.1"/>
<circle cx="946.9" cy="1047.5" r="11.1"/>
<circle cx="959.9" cy="1117.3" r="11.1"/>
<circle cx="972.9" cy="1127.3" r="11.1"/>
<circle cx="985.9" cy="1141.8" r="11.1"/>
<circle cx="998.9" cy="1136.0" r="11.1"/>
<circle cx="1011.9" cy="1139.1" r="11.1"/>
<circle cx="1024.9" cy="1133.3" r="11.1"/>
<circle cx="1037.9" cy="1138.7" r="11.1"/>
<circle cx="1050.9" cy="852.7" r="11.1"/>
<circle cx="1063.9" cy="917.3" r="11.1"/>
<circle cx="1076.9" cy="1005.8" r="11.1"/>
<circle cx="1089.9" cy="1093.3" r="11.1"/>
<circle cx="1102.9" cy="1107.9" r="11.1"/>
<circle cx="1115.9" cy="1128.7" r="11.1"/>
<circle cx="1128.9" cy="1124.1" r="11.1"/>
<circle cx="1141.9" cy="1130.8" r="11.1"/>
<circle cx="1154.9" cy="1123.5" r="11.1"/>
<circle cx="1167.9" cy="1129.8" r="11.1"/>
<circle cx="1180.9" cy="860.4" r="11.1"/>
<circle cx="1193.9" cy="923.5" r="11.1"/>
<circle cx="1206.9" cy="987.8" r="11.1"/>
<circle cx="1219.9" cy="1089.1" r="11.1"/>
<circle cx="1232.9" cy="1104.8" r="11.1"/>
<circle cx="1245.9" cy="1124.1" r="11.1"/>
<circle cx="1258.9" cy="1122.5" r="11.1"/>
<circle cx="1271.9" cy="1128.7" r="11.1"/>
<circle cx="1284.9" cy="1124.6" r="11.1"/>
<circle cx="1297.9" cy="1132.5" r="11.1"/>
<circle cx="1310.9" cy="849.6" r="11.1"/>
<circle cx="1323.9" cy="885.6" r="11.1"/>
<circle cx="1336.9" cy="966.0" r="11.1"/>
<circle cx="1349.9" cy="1062.6" r="11.1"/>
<circle cx="1362.9" cy="1088.7" r="11.1"/>
<circle cx="1375.9" cy="1105.8" r="11.1"/>
<circle cx="1388.9" cy="1110.0" r="11.1"/>
<circle cx="1401.9" cy="1113.1" r="11.1"/>
<circle cx="1414.9" cy="1112.1" r="11.1"/>
<circle cx="1427.9" cy="1121.4" r="11.1"/>
</g>
<g fill="#141414">
<circle cx="166.8" cy="1109.6" r="11.1"/>
<circle cx="179.8" cy="1134.2" r="11.1"/>
<circle cx="192.8" cy="1145.6" r="11.1"/>
<circle cx="205.8" cy="1148.6" r="11.1"/>
<circle cx="218.8" cy="1144.6" r="11.1"/>
<circle cx="231.8" cy="1153.0" r="11.1"/>
<circle cx="244.8" cy="1154.2" r="11.1"/>
<circle cx="257.8" cy="1157.0" r="11.1"/>
<circle cx="283.8" cy="1124.6" r="11.1"/>
<circle cx="296.8" cy="1125.6" r="11.1"/>
<circle cx="309.8" cy="1133.6" r="11.1"/>
<circle cx="322.8" cy="1128.6" r="11.1"/>
<circle cx="335.8" cy="1149.6" r="11.1"/>
<circle cx="348.8" cy="1141.6" r="11.1"/>
<circle cx="361.8" cy="1153.6" r="11.1"/>
<circle cx="374.8" cy="1151.6" r="11.1"/>
<circle cx="387.8" cy="1160.6" r="11.1"/>
<circle cx="400.8" cy="994.8" r="11.1"/>
<circle cx="413.8" cy="1164.1" r="11.1"/>
<circle cx="426.8" cy="1196.0" r="11.1"/>
<circle cx="439.8" cy="1190.2" r="11.1"/>
<circle cx="452.8" cy="1187.1" r="11.1"/>
<circle cx="465.8" cy="1185.6" r="11.1"/>
<circle cx="478.8" cy="1181.9" r="11.1"/>
<circle cx="491.8" cy="1185.0" r="11.1"/>
<circle cx="504.8" cy="1183.9" r="11.1"/>
<circle cx="517.8" cy="1183.6" r="11.1"/>
<circle cx="530.8" cy="979.1" r="11.1"/>
<circle cx="543.8" cy="1115.8" r="11.1"/>
<circle cx="556.8" cy="1173.1" r="11.1"/>
<circle cx="569.8" cy="1205.2" r="11.1"/>
<circle cx="582.8" cy="1203.1" r="11.1"/>
<circle cx="595.8" cy="1201.6" r="11.1"/>
<circle cx="608.8" cy="1193.3" r="11.1"/>
<circle cx="621.8" cy="1194.3" r="11.1"/>
<circle cx="634.8" cy="1186.0" r="11.1"/>
<circle cx="647.8" cy="1187.1" r="11.1"/>
<circle cx="660.8" cy="1001.6" r="11.1"/>
<circle cx="673.8" cy="1091.2" r="11.1"/>
<circle cx="686.8" cy="1155.8" r="11.1"/>
<circle cx="699.8" cy="1200.2" r="11.1"/>
<circle cx="712.8" cy="1218.3" r="11.1"/>
<circle cx="725.8" cy="1214.1" r="11.1"/>
<circle cx="738.8" cy="1207.9" r="11.1"/>
<circle cx="751.8" cy="1203.1" r="11.1"/>
<circle cx="764.8" cy="1197.5" r="11.1"/>
<circle cx="777.8" cy="1192.6" r="11.1"/>
<circle cx="790.9" cy="964.8" r="11.1"/>
<circle cx="803.9" cy="1030.2" r="11.1"/>
<circle cx="816.9" cy="1118.3" r="11.1"/>
<circle cx="829.9" cy="1184.3" r="11.1"/>
<circle cx="842.9" cy="1209.6" r="11.1"/>
<circle cx="855.9" cy="1218.3" r="11.1"/>
<circle cx="868.9" cy="1211.0" r="11.1"/>
<circle cx="881.9" cy="1205.8" r="11.1"/>
<circle cx="894.9" cy="1195.4" r="11.1"/>
<circle cx="907.9" cy="1191.2" r="11.1"/>
<circle cx="920.9" cy="917.9" r="11.1"/>
<circle cx="933.9" cy="997.8" r="11.1"/>
<circle cx="946.9" cy="1087.5" r="11.1"/>
<circle cx="959.9" cy="1173.5" r="11.1"/>
<circle cx="972.9" cy="1205.8" r="11.1"/>
<circle cx="985.9" cy="1216.8" r="11.1"/>
<circle cx="998.9" cy="1214.8" r="11.1"/>
<circle cx="1011.9" cy="1208.9" r="11.1"/>
<circle cx="1024.9" cy="1201.2" r="11.1"/>
<circle cx="1037.9" cy="1195.0" r="11.1"/>
<circle cx="1050.9" cy="871.0" r="11.1"/>
<circle cx="1063.9" cy="929.8" r="11.1"/>
<circle cx="1076.9" cy="1031.8" r="11.1"/>
<circle cx="1089.9" cy="1145.8" r="11.1"/>
<circle cx="1102.9" cy="1184.3" r="11.1"/>
<circle cx="1115.9" cy="1206.4" r="11.1"/>
<circle cx="1128.9" cy="1206.8" r="11.1"/>
<circle cx="1141.9" cy="1205.8" r="11.1"/>
<circle cx="1154.9" cy="1197.5" r="11.1"/>
<circle cx="1167.9" cy="1191.2" r="11.1"/>
<circle cx="1180.9" cy="878.1" r="11.1"/>
<circle cx="1193.9" cy="933.9" r="11.1"/>
<circle cx="1206.9" cy="997.8" r="11.1"/>
<circle cx="1219.9" cy="1127.3" r="11.1"/>
<circle cx="1232.9" cy="1169.3" r="11.1"/>
<circle cx="1245.9" cy="1193.9" r="11.1"/>
<circle cx="1258.9" cy="1200.2" r="11.1"/>
<circle cx="1271.9" cy="1199.6" r="11.1"/>
<circle cx="1284.9" cy="1193.3" r="11.1"/>
<circle cx="1297.9" cy="1189.1" r="11.1"/>
<circle cx="1310.9" cy="865.8" r="11.1"/>
<circle cx="1323.9" cy="900.2" r="11.1"/>
<circle cx="1336.9" cy="965.8" r="11.1"/>
<circle cx="1349.9" cy="1090.2" r="11.1"/>
<circle cx="1362.9" cy="1142.3" r="11.1"/>
<circle cx="1375.9" cy="1172.5" r="11.1"/>
<circle cx="1388.9" cy="1184.3" r="11.1"/>
<circle cx="1401.9" cy="1186.0" r="11.1"/>
<circle cx="1414.9" cy="1181.8" r="11.1"/>
<circle cx="1427.9" cy="1179.3" r="11.1"/>
</g>
<rect x="168.8" y="802.5" width="332.8" height="135.8" fill="#fff" stroke="#141414" stroke-width="4.5"/>
<path d="M185 841.6H265.5" stroke="#afafaf" stroke-width="3.6"/><circle cx="225.2" cy="841.6" r="11.1" fill="#afafaf"/>
<path d="M185 900.2H265.5" stroke="#141414" stroke-width="3.6"/><circle cx="225.2" cy="900.2" r="11.1" fill="#141414"/>
<text x="289.0" y="854.0" font-size="48.8" textLength="126.7" lengthAdjust="spacingAndGlyphs">Model</text>
<text x="433.2" y="854.0" font-size="48.8" textLength="32.7" lengthAdjust="spacingAndGlyphs">A</text>
<text x="278.0" y="913.0" font-size="48.8" textLength="126.7" lengthAdjust="spacingAndGlyphs">Model</text>
<text x="420.6" y="913.0" font-size="48.8" textLength="57.5" lengthAdjust="spacingAndGlyphs">B3</text>
<text x="64" y="1173.0" font-size="48" textLength="60" lengthAdjust="spacingAndGlyphs">0.1</text>
<text x="64" y="1044.0" font-size="48" textLength="60" lengthAdjust="spacingAndGlyphs">0.2</text>
<text x="64" y="915.0" font-size="48" textLength="60" lengthAdjust="spacingAndGlyphs">0.3</text>
<text x="140.4" y="1268.6" font-size="48" text-anchor="middle" textLength="25" lengthAdjust="spacingAndGlyphs">0</text>
<text x="270.5" y="1268.6" font-size="48" text-anchor="middle" textLength="48" lengthAdjust="spacingAndGlyphs">10</text>
<text x="400.5" y="1268.6" font-size="48" text-anchor="middle" textLength="48" lengthAdjust="spacingAndGlyphs">20</text>
<text x="530.5" y="1268.6" font-size="48" text-anchor="middle" textLength="48" lengthAdjust="spacingAndGlyphs">30</text>
<text x="660.5" y="1268.6" font-size="48" text-anchor="middle" textLength="48" lengthAdjust="spacingAndGlyphs">40</text>
<text x="790.5" y="1268.6" font-size="48" text-anchor="middle" textLength="48" lengthAdjust="spacingAndGlyphs">50</text>
<text x="920.6" y="1268.6" font-size="48" text-anchor="middle" textLength="48" lengthAdjust="spacingAndGlyphs">60</text>
<text x="1050.6" y="1268.6" font-size="48" text-anchor="middle" textLength="48" lengthAdjust="spacingAndGlyphs">70</text>
<text x="1180.6" y="1268.6" font-size="48" text-anchor="middle" textLength="48" lengthAdjust="spacingAndGlyphs">80</text>
<text x="1310.6" y="1268.6" font-size="48" text-anchor="middle" textLength="48" lengthAdjust="spacingAndGlyphs">90</text>
<text x="1440.7" y="1268.6" font-size="48" text-anchor="middle" textLength="72" lengthAdjust="spacingAndGlyphs">100</text>
<g transform="translate(36.3,1088) rotate(-90)"><text x="0" y="0" font-size="50" textLength="172.5" lengthAdjust="spacingAndGlyphs">NRMSE</text></g>
<text x="672.75" y="1327.5" font-size="50" class="it" textLength="44.9" lengthAdjust="spacingAndGlyphs">m</text>
<text x="716.7" y="1335" font-size="35" class="sb" textLength="18" lengthAdjust="spacingAndGlyphs">x</text>
<text x="767.6" y="1338.9" font-size="72.5" text-anchor="middle" class="pl">+</text>
<text x="797" y="1327.5" font-size="48" textLength="46" lengthAdjust="spacingAndGlyphs">10</text>
<text x="842" y="1327.5" font-size="50" class="it" textLength="44.9" lengthAdjust="spacingAndGlyphs">m</text>
<text x="890" y="1334" font-size="31" class="sb" textLength="14.2" lengthAdjust="spacingAndGlyphs">y</text>
</svg></body></html>
